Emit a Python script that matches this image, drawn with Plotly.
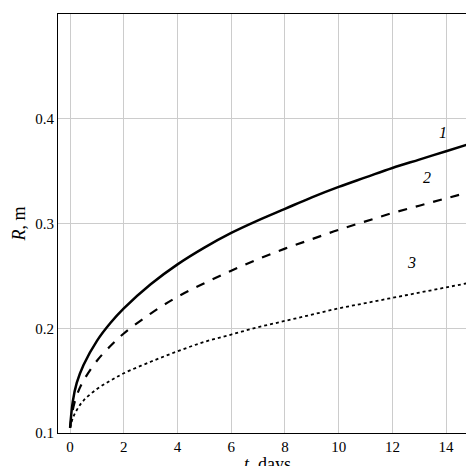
import plotly.graph_objects as go

t = [0, 0.1, 0.25, 0.5, 1, 1.5, 2, 3, 4, 5, 6, 7, 8, 9, 10, 11, 12, 13, 14, 15]
r1 = [0.105, 0.13, 0.148, 0.165, 0.188, 0.205, 0.219, 0.242, 0.261, 0.277, 0.291, 0.303, 0.314, 0.325, 0.335, 0.344, 0.353, 0.361, 0.369, 0.377]
r2 = [0.105, 0.122, 0.136, 0.150, 0.169, 0.183, 0.195, 0.214, 0.230, 0.243, 0.255, 0.266, 0.276, 0.285, 0.294, 0.302, 0.310, 0.317, 0.324, 0.331]
r3 = [0.105, 0.114, 0.122, 0.131, 0.142, 0.150, 0.157, 0.168, 0.178, 0.187, 0.194, 0.201, 0.207, 0.213, 0.219, 0.224, 0.229, 0.234, 0.239, 0.244]

fig = go.Figure()
for y, dash, w in [(r1, "solid", 2.5), (r2, "dash", 2.2), (r3, "dot", 1.8)]:
    fig.add_trace(go.Scatter(x=t, y=y, mode="lines", line=dict(color="black", dash=dash, width=w, shape="spline")))

for txt, x, y in [("1", 13.9, 0.387), ("2", 13.3, 0.344), ("3", 12.7, 0.263)]:
    fig.add_annotation(x=x, y=y, text=f"<i>{txt}</i>", showarrow=False, font=dict(size=16, color="black"))

fig.update_layout(
    width=474, height=466, showlegend=False,
    plot_bgcolor="white", paper_bgcolor="white",
    margin=dict(l=50, r=4, t=6, b=30),
    font=dict(family="Liberation Serif", size=15, color="black"),
)
fig.update_xaxes(range=[-0.45, 15.15], tickvals=list(range(0, 15, 2)), showgrid=True, gridcolor="#cccccc",
                 showline=True, linecolor="black", mirror=True, ticks="inside", ticklen=0,
                 title=dict(text="<i>t</i>, days", standoff=2), zeroline=False)
fig.update_yaxes(range=[0.1, 0.5], tickvals=[0.1, 0.2, 0.3, 0.4, 0.5], showgrid=True, gridcolor="#cccccc",
                 showline=True, linecolor="black", mirror=True, ticks="inside", ticklen=0,
                 title=dict(text="<i>R</i>, m", standoff=4), zeroline=False)

fig.write_html("out.html")
